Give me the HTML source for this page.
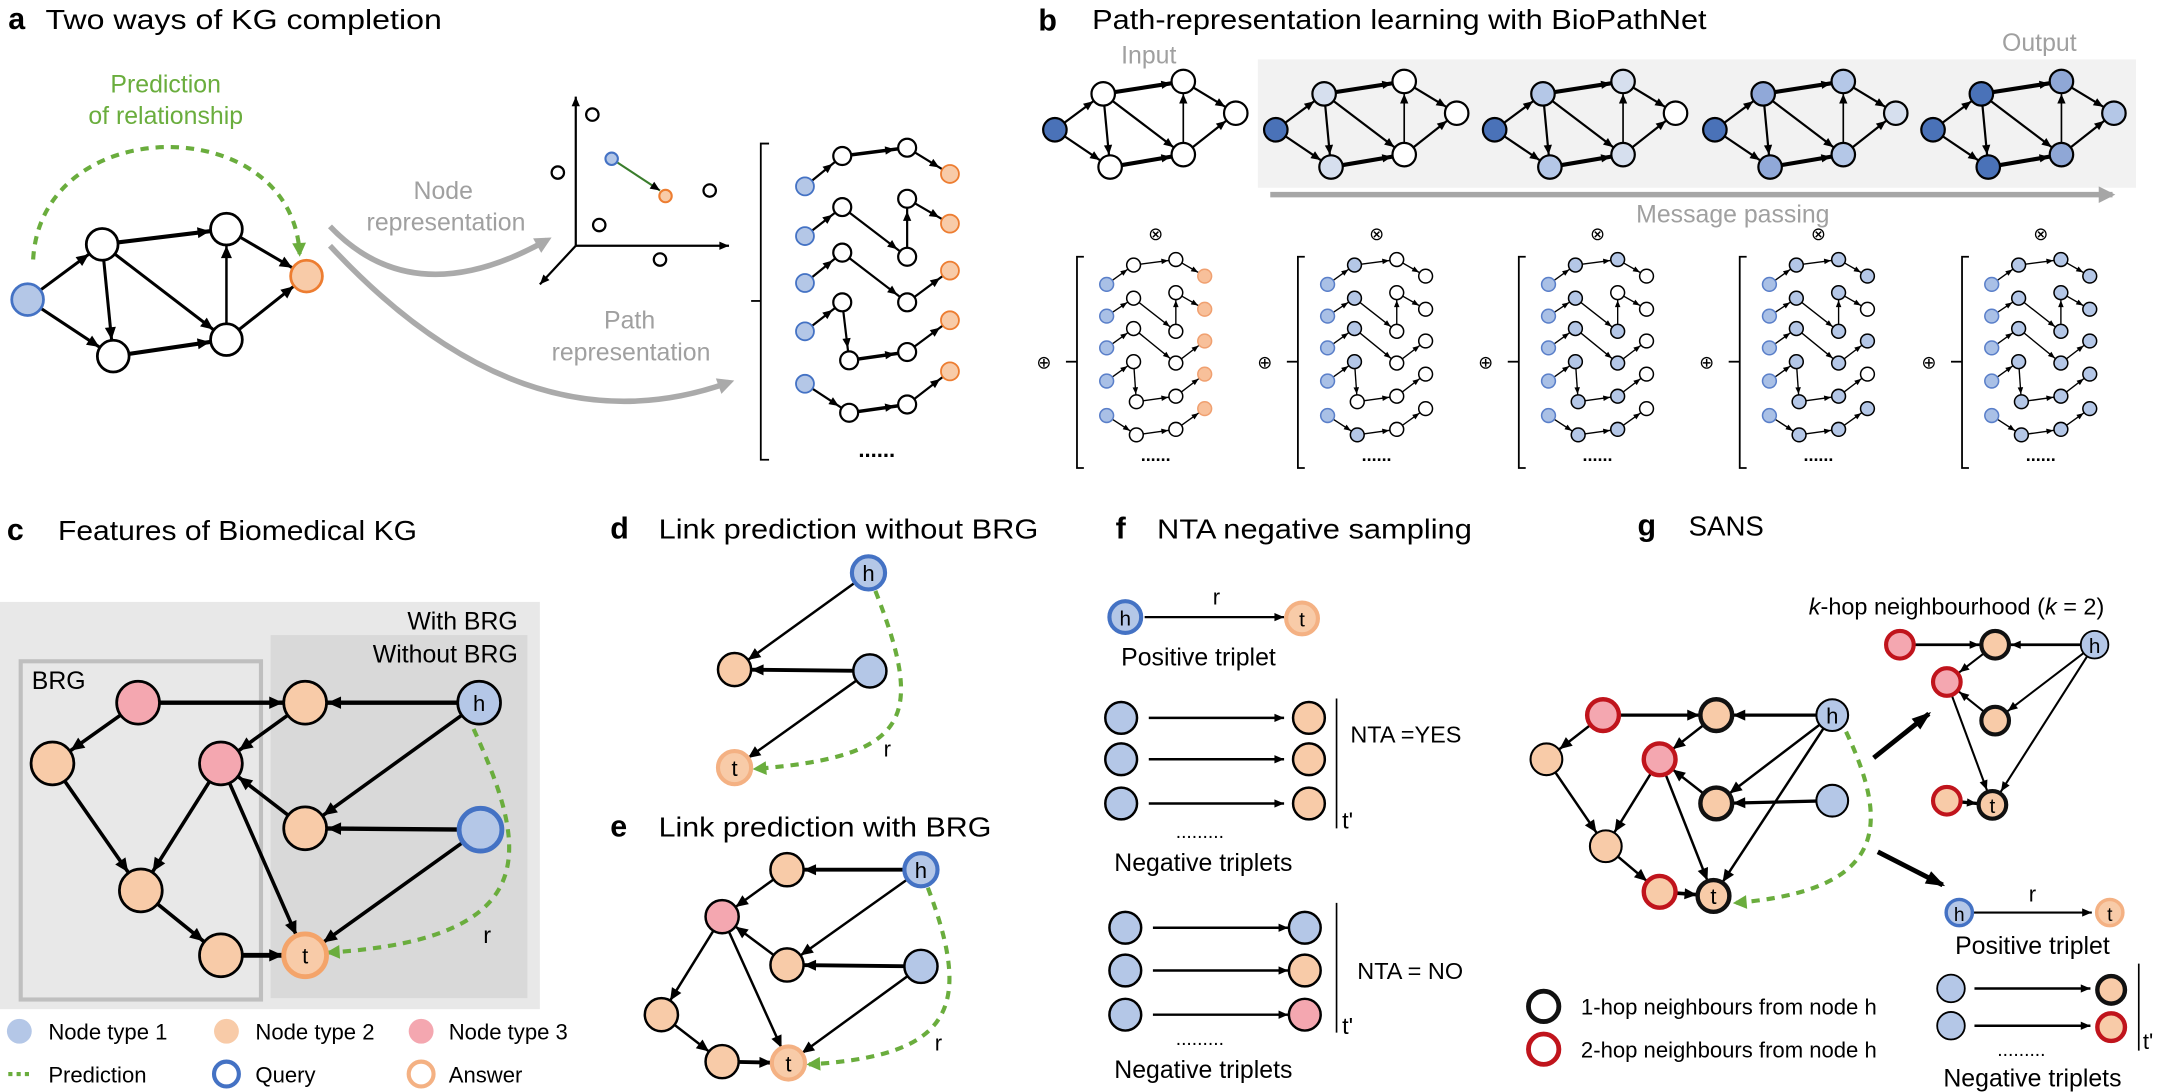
<!DOCTYPE html>
<html><head><meta charset="utf-8"><style>
html,body{margin:0;padding:0;background:#fff;}
svg{display:block;font-family:"Liberation Sans",sans-serif;}
</style></head><body>
<svg width="2165" height="1092" viewBox="0 0 1568 791" preserveAspectRatio="none" xmlns="http://www.w3.org/2000/svg">
<defs>
<marker id="m12" markerUnits="userSpaceOnUse" markerWidth="40" markerHeight="12" refX="21" refY="4" orient="auto" overflow="visible"><path d="M0,0 L9,4 L0,8 z" fill="#000"/></marker>
<marker id="m15" markerUnits="userSpaceOnUse" markerWidth="40" markerHeight="12" refX="26" refY="4.5" orient="auto" overflow="visible"><path d="M0,0 L10,4.5 L0,9 z" fill="#000"/></marker>
<marker id="m8" markerUnits="userSpaceOnUse" markerWidth="30" markerHeight="8" refX="16" refY="3" orient="auto" overflow="visible"><path d="M0,0 L7,3 L0,6 z" fill="#000"/></marker>
<marker id="m5" markerUnits="userSpaceOnUse" markerWidth="20" markerHeight="6" refX="10.5" refY="2" orient="auto" overflow="visible"><path d="M0,0 L5,2 L0,4 z" fill="#000"/></marker>
<marker id="m10" markerUnits="userSpaceOnUse" markerWidth="30" markerHeight="8" refX="18.5" refY="3" orient="auto" overflow="visible"><path d="M0,0 L7,3 L0,6 z" fill="#000"/></marker>
<marker id="mt" markerUnits="userSpaceOnUse" markerWidth="12" markerHeight="8" refX="7" refY="3" orient="auto" overflow="visible"><path d="M0,0 L7,3 L0,6 z" fill="#000"/></marker>
<marker id="mg" markerUnits="userSpaceOnUse" markerWidth="12" markerHeight="12" refX="8" refY="5" orient="auto" overflow="visible"><path d="M0,0 L10,5 L0,10 z" fill="#6aad3d"/></marker>
<marker id="mgr" markerUnits="userSpaceOnUse" markerWidth="14" markerHeight="14" refX="8" refY="6" orient="auto" overflow="visible"><path d="M0,0 L12,6 L0,12 z" fill="#aaa"/></marker>
<marker id="mbig" markerUnits="userSpaceOnUse" markerWidth="20" markerHeight="14" refX="12" refY="5" orient="auto" overflow="visible"><path d="M0,0 L14,5 L0,10 z" fill="#000"/></marker>
<marker id="mmp" markerUnits="userSpaceOnUse" markerWidth="20" markerHeight="14" refX="10" refY="6" orient="auto" overflow="visible"><path d="M0,0 L12,6 L0,12 z" fill="#a6a6a6"/></marker>

<g id="bedges" stroke="#000" stroke-width="1.6" fill="none" marker-end="url(#m8)">
<line x1="764" y1="94" x2="799" y2="68"/><line x1="764" y1="94" x2="804" y2="121"/>
<line x1="799" y1="68" x2="804" y2="121"/><line x1="799" y1="68" x2="857" y2="59" stroke-width="3"/>
<line x1="799" y1="68" x2="857" y2="112"/><line x1="804" y1="121" x2="857" y2="112" stroke-width="3"/>
<line x1="857" y1="112" x2="857" y2="59" stroke-width="1.2"/><line x1="857" y1="59" x2="895" y2="82"/>
<line x1="857" y1="112" x2="895" y2="82"/>
</g>
<g id="sedges" stroke="#000" stroke-width="1" fill="none" marker-end="url(#m5)">
<polyline points="21.5,206 41,192" /><line x1="41" y1="192" x2="71.6" y2="188"/><line x1="71.6" y1="188" x2="92.5" y2="200"/>
<line x1="21.5" y1="229" x2="41" y2="216"/><line x1="41" y1="216" x2="71.6" y2="240"/><line x1="71.6" y1="240" x2="71.6" y2="212"/><line x1="71.6" y1="212" x2="92.5" y2="224"/>
<line x1="21.5" y1="252" x2="41" y2="238"/><line x1="41" y1="238" x2="71.6" y2="263"/><line x1="71.6" y1="263" x2="92.5" y2="247"/>
<line x1="21.5" y1="276" x2="41" y2="262"/><line x1="41" y1="262" x2="43" y2="291"/><line x1="43" y1="291" x2="71.6" y2="287"/><line x1="71.6" y1="287" x2="92.5" y2="271"/>
<line x1="21.5" y1="301" x2="43" y2="315"/><line x1="43" y1="315" x2="71.6" y2="311"/><line x1="71.6" y1="311" x2="92.5" y2="296"/>
</g>
<g id="sbrk" stroke="#000" stroke-width="1.3" fill="none">
<polyline points="5,186 0,186 0,339 5,339"/><line x1="-8" y1="262" x2="0" y2="262"/>
</g>
</defs>

<!-- ===== Panel a ===== -->
<text x="6" y="21" font-size="22" font-weight="bold">a</text>
<text x="33" y="21" font-size="20" textLength="287" lengthAdjust="spacingAndGlyphs">Two ways of KG completion</text>
<text x="120" y="67" font-size="18" fill="#6aad3d" text-anchor="middle">Prediction</text>
<text x="120" y="90" font-size="18" fill="#6aad3d" text-anchor="middle">of relationship</text>
<path d="M24,188 C30,80 212,80 217,184" fill="none" stroke="#6aad3d" stroke-width="3" stroke-dasharray="6,5" marker-end="url(#mg)"/>
<g stroke="#000" stroke-width="2.2" marker-end="url(#m12)">
<line x1="20" y1="217" x2="74" y2="177"/><line x1="20" y1="217" x2="82" y2="258"/>
<line x1="74" y1="177" x2="82" y2="258"/><line x1="74" y1="177" x2="164" y2="166" stroke-width="3"/>
<line x1="74" y1="177" x2="164" y2="246"/><line x1="82" y1="258" x2="164" y2="246" stroke-width="3"/>
<line x1="164" y1="246" x2="164" y2="166" stroke-width="1.8"/><line x1="164" y1="166" x2="222" y2="200"/>
<line x1="164" y1="246" x2="222" y2="200"/>
</g>
<g stroke="#000" stroke-width="2" fill="#fff">
<circle cx="74" cy="177" r="11.5"/><circle cx="82" cy="258" r="11.5"/><circle cx="164" cy="166" r="11.5"/><circle cx="164" cy="246" r="11.5"/>
</g>
<circle cx="20" cy="217" r="11.5" fill="#b4c7e7" stroke="#4472c4" stroke-width="2"/>
<circle cx="222" cy="200" r="11.5" fill="#f8cba8" stroke="#ed7d31" stroke-width="2"/>
<path d="M239,164 Q300,228 396,174" fill="none" stroke="#aaa" stroke-width="4" marker-end="url(#mgr)"/>
<path d="M239,178 Q380,330 528,277" fill="none" stroke="#aaa" stroke-width="4" marker-end="url(#mgr)"/>
<g font-size="18" fill="#a0a0a0" text-anchor="middle">
<text x="321" y="144">Node</text><text x="323" y="167">representation</text>
<text x="456" y="238">Path</text><text x="457" y="261">representation</text>
</g>
<g stroke="#000" stroke-width="1.6" marker-end="url(#mt)">
<line x1="417" y1="178" x2="417" y2="70"/><line x1="417" y1="178" x2="528" y2="178"/><line x1="417" y1="178" x2="391" y2="206"/>
</g>
<g stroke="#000" stroke-width="1.6" fill="#fff">
<circle cx="429" cy="83" r="4.5"/><circle cx="404" cy="125" r="4.5"/><circle cx="514" cy="138" r="4.5"/><circle cx="434" cy="163" r="4.5"/><circle cx="478" cy="188" r="4.5"/>
</g>
<line x1="443" y1="115" x2="478" y2="138" stroke="#3a7d2c" stroke-width="1.5" marker-end="url(#mt)"/>
<circle cx="443" cy="115" r="4.5" fill="#b4c7e7" stroke="#4472c4" stroke-width="1.5"/>
<circle cx="482" cy="142" r="4.5" fill="#f8cba8" stroke="#ed7d31" stroke-width="1.5"/>
<!-- a path list -->
<polyline points="557,104 551,104 551,333 557,333" fill="none" stroke="#000" stroke-width="1.3"/>
<line x1="544" y1="218" x2="551" y2="218" stroke="#000" stroke-width="1.3"/>
<g stroke="#000" stroke-width="1.6" marker-end="url(#m8)" fill="none">
<line x1="583" y1="135" x2="610" y2="113"/><line x1="610" y1="113" x2="657" y2="107" stroke-width="2.5"/><line x1="657" y1="107" x2="688" y2="126"/>
<line x1="583" y1="171" x2="610" y2="150"/><line x1="610" y1="150" x2="657" y2="186"/><line x1="657" y1="186" x2="657" y2="144"/><line x1="657" y1="144" x2="688" y2="162"/>
<line x1="583" y1="205" x2="610" y2="183"/><line x1="610" y1="183" x2="657" y2="219"/><line x1="657" y1="219" x2="688" y2="196"/>
<line x1="583" y1="240" x2="610" y2="219"/><line x1="610" y1="219" x2="615" y2="261"/><line x1="615" y1="261" x2="657" y2="255" stroke-width="2.5"/><line x1="657" y1="255" x2="688" y2="232"/>
<line x1="583" y1="278" x2="615" y2="299"/><line x1="615" y1="299" x2="657" y2="293" stroke-width="2.5"/><line x1="657" y1="293" x2="688" y2="269"/>
</g>
<g stroke="#000" stroke-width="1.6" fill="#fff">
<circle cx="610" cy="113" r="6.5"/><circle cx="657" cy="107" r="6.5"/>
<circle cx="610" cy="150" r="6.5"/><circle cx="657" cy="186" r="6.5"/><circle cx="657" cy="144" r="6.5"/>
<circle cx="610" cy="183" r="6.5"/><circle cx="657" cy="219" r="6.5"/>
<circle cx="610" cy="219" r="6.5"/><circle cx="615" cy="261" r="6.5"/><circle cx="657" cy="255" r="6.5"/>
<circle cx="615" cy="299" r="6.5"/><circle cx="657" cy="293" r="6.5"/>
</g>
<g fill="#b4c7e7" stroke="#4472c4" stroke-width="1.3">
<circle cx="583" cy="135" r="6.5"/><circle cx="583" cy="171" r="6.5"/><circle cx="583" cy="205" r="6.5"/><circle cx="583" cy="240" r="6.5"/><circle cx="583" cy="278" r="6.5"/>
</g>
<g fill="#f8cba8" stroke="#ed7d31" stroke-width="1.3">
<circle cx="688" cy="126" r="6.5"/><circle cx="688" cy="162" r="6.5"/><circle cx="688" cy="196" r="6.5"/><circle cx="688" cy="232" r="6.5"/><circle cx="688" cy="269" r="6.5"/>
</g>
<text x="635" y="331" font-size="16" font-weight="bold" text-anchor="middle">......</text>

<!-- ===== Panel b ===== -->
<text x="752" y="22" font-size="22" font-weight="bold">b</text>
<text x="791" y="21" font-size="20" textLength="445" lengthAdjust="spacingAndGlyphs">Path-representation learning with BioPathNet</text>
<text x="832" y="46" font-size="18" fill="#a0a0a0" text-anchor="middle">Input</text>
<text x="1477" y="37" font-size="18" fill="#a0a0a0" text-anchor="middle">Output</text>
<rect x="911" y="43" width="636" height="93" fill="#f2f2f2"/>
<line x1="920" y1="141" x2="1530" y2="141" stroke="#a6a6a6" stroke-width="4" marker-end="url(#mmp)"/>
<text x="1255" y="161" font-size="18" fill="#a0a0a0" text-anchor="middle">Message passing</text>
<use href="#bedges"/>
<use href="#bedges" transform="translate(160,0)"/>
<use href="#bedges" transform="translate(318.5,0)"/>
<use href="#bedges" transform="translate(478,0)"/>
<use href="#bedges" transform="translate(636,0)"/>
<g stroke="#000" stroke-width="1.6">
<!-- input -->
<circle cx="764" cy="94" r="8.5" fill="#4a72b8"/><circle cx="799" cy="68" r="8.5" fill="#fff"/><circle cx="804" cy="121" r="8.5" fill="#fff"/><circle cx="857" cy="59" r="8.5" fill="#fff"/><circle cx="857" cy="112" r="8.5" fill="#fff"/><circle cx="895" cy="82" r="8.5" fill="#fff"/>
<g transform="translate(160,0)"><circle cx="764" cy="94" r="8.5" fill="#4a72b8"/><circle cx="799" cy="68" r="8.5" fill="#d6dfee"/><circle cx="804" cy="121" r="8.5" fill="#d6dfee"/><circle cx="857" cy="59" r="8.5" fill="#fff"/><circle cx="857" cy="112" r="8.5" fill="#fff"/><circle cx="895" cy="82" r="8.5" fill="#fff"/></g>
<g transform="translate(318.5,0)"><circle cx="764" cy="94" r="8.5" fill="#4a72b8"/><circle cx="799" cy="68" r="8.5" fill="#b4c7e7"/><circle cx="804" cy="121" r="8.5" fill="#b4c7e7"/><circle cx="857" cy="59" r="8.5" fill="#d6dfee"/><circle cx="857" cy="112" r="8.5" fill="#d6dfee"/><circle cx="895" cy="82" r="8.5" fill="#fff"/></g>
<g transform="translate(478,0)"><circle cx="764" cy="94" r="8.5" fill="#4a72b8"/><circle cx="799" cy="68" r="8.5" fill="#90a8d8"/><circle cx="804" cy="121" r="8.5" fill="#90a8d8"/><circle cx="857" cy="59" r="8.5" fill="#b4c7e7"/><circle cx="857" cy="112" r="8.5" fill="#b4c7e7"/><circle cx="895" cy="82" r="8.5" fill="#d6dfee"/></g>
<g transform="translate(636,0)"><circle cx="764" cy="94" r="8.5" fill="#4a72b8"/><circle cx="799" cy="68" r="8.5" fill="#4a72b8"/><circle cx="804" cy="121" r="8.5" fill="#4a72b8"/><circle cx="857" cy="59" r="8.5" fill="#8fa7d6"/><circle cx="857" cy="112" r="8.5" fill="#8fa7d6"/><circle cx="895" cy="82" r="8.5" fill="#b4c7e7"/></g>
</g>
<!-- stacks -->
<g font-size="13" text-anchor="middle">
<g transform="translate(780,0)"><use href="#sbrk"/><use href="#sedges"/><text x="57" y="174">⊗</text><text x="-24" y="267">⊕</text><text x="57" y="334" font-weight="bold">......</text></g>
<g transform="translate(940,0)"><use href="#sbrk"/><use href="#sedges"/><text x="57" y="174">⊗</text><text x="-24" y="267">⊕</text><text x="57" y="334" font-weight="bold">......</text></g>
<g transform="translate(1100,0)"><use href="#sbrk"/><use href="#sedges"/><text x="57" y="174">⊗</text><text x="-24" y="267">⊕</text><text x="57" y="334" font-weight="bold">......</text></g>
<g transform="translate(1260,0)"><use href="#sbrk"/><use href="#sedges"/><text x="57" y="174">⊗</text><text x="-24" y="267">⊕</text><text x="57" y="334" font-weight="bold">......</text></g>
<g transform="translate(1421,0)"><use href="#sbrk"/><use href="#sedges"/><text x="57" y="174">⊗</text><text x="-24" y="267">⊕</text><text x="57" y="334" font-weight="bold">......</text></g>
</g>
<g stroke-width="1.1">
<!-- stack1 -->
<g transform="translate(780,0)" stroke="#000">
<g fill="#fff"><circle cx="41" cy="192" r="5"/><circle cx="71.6" cy="188" r="5"/><circle cx="41" cy="216" r="5"/><circle cx="71.6" cy="240" r="5"/><circle cx="71.6" cy="212" r="5"/><circle cx="41" cy="238" r="5"/><circle cx="71.6" cy="263" r="5"/><circle cx="41" cy="262" r="5"/><circle cx="43" cy="291" r="5"/><circle cx="71.6" cy="287" r="5"/><circle cx="43" cy="315" r="5"/><circle cx="71.6" cy="311" r="5"/></g>
<g fill="#f8c09a" stroke="#f0a070"><circle cx="92.5" cy="200" r="5"/><circle cx="92.5" cy="224" r="5"/><circle cx="92.5" cy="247" r="5"/><circle cx="92.5" cy="271" r="5"/><circle cx="92.5" cy="296" r="5"/></g>
</g>
<!-- stack2 -->
<g transform="translate(940,0)" stroke="#000">
<g fill="#fff"><circle cx="71.6" cy="188" r="5"/><circle cx="71.6" cy="240" r="5"/><circle cx="71.6" cy="212" r="5"/><circle cx="71.6" cy="263" r="5"/><circle cx="43" cy="291" r="5"/><circle cx="71.6" cy="287" r="5"/><circle cx="71.6" cy="311" r="5"/><circle cx="92.5" cy="200" r="5"/><circle cx="92.5" cy="224" r="5"/><circle cx="92.5" cy="247" r="5"/><circle cx="92.5" cy="271" r="5"/><circle cx="92.5" cy="296" r="5"/></g>
<g fill="#b4c7e7"><circle cx="41" cy="192" r="5"/><circle cx="41" cy="216" r="5"/><circle cx="41" cy="238" r="5"/><circle cx="41" cy="262" r="5"/><circle cx="43" cy="315" r="5"/></g>
</g>
<!-- stack3 -->
<g transform="translate(1100,0)" stroke="#000">
<g fill="#fff"><circle cx="71.6" cy="212" r="5"/><circle cx="92.5" cy="200" r="5"/><circle cx="92.5" cy="224" r="5"/><circle cx="92.5" cy="247" r="5"/><circle cx="92.5" cy="271" r="5"/><circle cx="92.5" cy="296" r="5"/></g>
<g fill="#b4c7e7"><circle cx="41" cy="192" r="5"/><circle cx="41" cy="216" r="5"/><circle cx="41" cy="238" r="5"/><circle cx="41" cy="262" r="5"/><circle cx="43" cy="315" r="5"/><circle cx="71.6" cy="188" r="5"/><circle cx="71.6" cy="240" r="5"/><circle cx="71.6" cy="263" r="5"/><circle cx="43" cy="291" r="5"/><circle cx="71.6" cy="287" r="5"/><circle cx="71.6" cy="311" r="5"/></g>
</g>
<!-- stack4 -->
<g transform="translate(1260,0)" stroke="#000">
<g fill="#fff"><circle cx="92.5" cy="224" r="5"/><circle cx="92.5" cy="271" r="5"/></g>
<g fill="#b4c7e7"><circle cx="41" cy="192" r="5"/><circle cx="41" cy="216" r="5"/><circle cx="41" cy="238" r="5"/><circle cx="41" cy="262" r="5"/><circle cx="43" cy="315" r="5"/><circle cx="71.6" cy="188" r="5"/><circle cx="71.6" cy="240" r="5"/><circle cx="71.6" cy="212" r="5"/><circle cx="71.6" cy="263" r="5"/><circle cx="43" cy="291" r="5"/><circle cx="71.6" cy="287" r="5"/><circle cx="71.6" cy="311" r="5"/><circle cx="92.5" cy="200" r="5"/><circle cx="92.5" cy="247" r="5"/><circle cx="92.5" cy="296" r="5"/></g>
</g>
<!-- stack5 -->
<g transform="translate(1421,0)" stroke="#000" fill="#b4c7e7">
<circle cx="41" cy="192" r="5"/><circle cx="41" cy="216" r="5"/><circle cx="41" cy="238" r="5"/><circle cx="41" cy="262" r="5"/><circle cx="43" cy="315" r="5"/><circle cx="71.6" cy="188" r="5"/><circle cx="71.6" cy="240" r="5"/><circle cx="71.6" cy="212" r="5"/><circle cx="71.6" cy="263" r="5"/><circle cx="43" cy="291" r="5"/><circle cx="71.6" cy="287" r="5"/><circle cx="71.6" cy="311" r="5"/><circle cx="92.5" cy="200" r="5"/><circle cx="92.5" cy="224" r="5"/><circle cx="92.5" cy="247" r="5"/><circle cx="92.5" cy="271" r="5"/><circle cx="92.5" cy="296" r="5"/>
</g>
<!-- start nodes all stacks -->
<g fill="#a9c0e6" stroke="#5a7fc9">
<g transform="translate(780,0)"><circle cx="21.5" cy="206" r="5"/><circle cx="21.5" cy="229" r="5"/><circle cx="21.5" cy="252" r="5"/><circle cx="21.5" cy="276" r="5"/><circle cx="21.5" cy="301" r="5"/></g>
<g transform="translate(940,0)"><circle cx="21.5" cy="206" r="5"/><circle cx="21.5" cy="229" r="5"/><circle cx="21.5" cy="252" r="5"/><circle cx="21.5" cy="276" r="5"/><circle cx="21.5" cy="301" r="5"/></g>
<g transform="translate(1100,0)"><circle cx="21.5" cy="206" r="5"/><circle cx="21.5" cy="229" r="5"/><circle cx="21.5" cy="252" r="5"/><circle cx="21.5" cy="276" r="5"/><circle cx="21.5" cy="301" r="5"/></g>
<g transform="translate(1260,0)"><circle cx="21.5" cy="206" r="5"/><circle cx="21.5" cy="229" r="5"/><circle cx="21.5" cy="252" r="5"/><circle cx="21.5" cy="276" r="5"/><circle cx="21.5" cy="301" r="5"/></g>
<g transform="translate(1421,0)"><circle cx="21.5" cy="206" r="5"/><circle cx="21.5" cy="229" r="5"/><circle cx="21.5" cy="252" r="5"/><circle cx="21.5" cy="276" r="5"/><circle cx="21.5" cy="301" r="5"/></g>
</g>
</g>

<!-- ===== Panel c ===== -->
<text x="5" y="391" font-size="22" font-weight="bold">c</text>
<text x="42" y="391" font-size="20" textLength="260" lengthAdjust="spacingAndGlyphs">Features of Biomedical KG</text>
<rect x="0" y="436" width="391" height="295" fill="#e8e8e8"/>
<rect x="196" y="460" width="186" height="263" fill="#d9d9d9"/>
<rect x="15" y="479" width="174" height="245" fill="none" stroke="#bfbfbf" stroke-width="3"/>
<text x="375" y="456" font-size="18" text-anchor="end">With BRG</text>
<text x="375" y="480" font-size="18" text-anchor="end">Without BRG</text>
<text x="23" y="499" font-size="18">BRG</text>
<g stroke="#000" stroke-width="2.6" marker-end="url(#m15)">
<line x1="100" y1="509" x2="221" y2="509" stroke-width="3.2"/><line x1="347" y1="509" x2="221" y2="509" stroke-width="3.2"/>
<line x1="100" y1="509" x2="38" y2="553"/><line x1="221" y1="509" x2="160" y2="553"/>
<line x1="347" y1="509" x2="221" y2="600"/><line x1="221" y1="600" x2="160" y2="553"/>
<line x1="348" y1="601" x2="221" y2="600" stroke-width="3.2"/><line x1="38" y1="553" x2="102" y2="645"/>
<line x1="160" y1="553" x2="102" y2="645"/><line x1="160" y1="553" x2="221" y2="692"/>
<line x1="102" y1="645" x2="160" y2="692"/><line x1="160" y1="692" x2="221" y2="692" stroke-width="3.5"/>
<line x1="348" y1="601" x2="221" y2="692"/>
</g>
<path d="M343,528 C380,610 400,680 238,690" fill="none" stroke="#6aad3d" stroke-width="3" stroke-dasharray="6,5" marker-end="url(#mg)"/>
<text x="350" y="683" font-size="17">r</text>
<g stroke="#000" stroke-width="2">
<circle cx="100" cy="509" r="15.5" fill="#f4a7b0"/><circle cx="160" cy="553" r="15.5" fill="#f4a7b0"/>
<circle cx="221" cy="509" r="15.5" fill="#f8cba8"/><circle cx="38" cy="553" r="15.5" fill="#f8cba8"/><circle cx="221" cy="600" r="15.5" fill="#f8cba8"/><circle cx="102" cy="645" r="15.5" fill="#f8cba8"/><circle cx="160" cy="692" r="15.5" fill="#f8cba8"/>
<circle cx="347" cy="509" r="15.5" fill="#b4c7e7"/>
</g>
<circle cx="348" cy="601" r="15.5" fill="#b4c7e7" stroke="#4472c4" stroke-width="3.5"/>
<circle cx="221" cy="692" r="15.5" fill="#f8cba8" stroke="#f4a46a" stroke-width="3.5"/>
<text x="347" y="515" font-size="16" text-anchor="middle">h</text>
<text x="221" y="698" font-size="16" text-anchor="middle">t</text>
<!-- legend c -->
<g font-size="16">
<circle cx="14" cy="747" r="9" fill="#b4c7e7"/><text x="35" y="753">Node type 1</text>
<circle cx="164" cy="747" r="9" fill="#f8cba8"/><text x="185" y="753">Node type 2</text>
<circle cx="305" cy="747" r="9" fill="#f4a7b0"/><text x="325" y="753">Node type 3</text>
<line x1="6" y1="778" x2="22" y2="778" stroke="#6aad3d" stroke-width="3" stroke-dasharray="3,3"/><text x="35" y="784">Prediction</text>
<circle cx="164" cy="778" r="9" fill="none" stroke="#4472c4" stroke-width="3"/><text x="185" y="784">Query</text>
<circle cx="305" cy="778" r="9" fill="none" stroke="#f4b183" stroke-width="3"/><text x="325" y="784">Answer</text>
</g>

<!-- ===== Panel d ===== -->
<text x="442" y="390" font-size="22" font-weight="bold">d</text>
<text x="477" y="390" font-size="20" textLength="275" lengthAdjust="spacingAndGlyphs">Link prediction without BRG</text>
<g stroke="#000" stroke-width="1.8" marker-end="url(#m12)">
<line x1="629" y1="415" x2="532" y2="485"/><line x1="630" y1="486" x2="532" y2="485" stroke-width="2.8"/><line x1="630" y1="486" x2="532" y2="556"/>
</g>
<path d="M634,428 C670,520 660,548 547,557" fill="none" stroke="#6aad3d" stroke-width="3" stroke-dasharray="6,5" marker-end="url(#mg)"/>
<text x="640" y="548" font-size="16">r</text>
<circle cx="629" cy="415" r="12" fill="#b4c7e7" stroke="#4472c4" stroke-width="3"/><text x="629" y="421" font-size="16" text-anchor="middle">h</text>
<circle cx="532" cy="485" r="12" fill="#f8cba8" stroke="#000" stroke-width="1.8"/>
<circle cx="630" cy="486" r="12" fill="#b4c7e7" stroke="#000" stroke-width="1.8"/>
<circle cx="532" cy="556" r="12" fill="#f8cba8" stroke="#f4b183" stroke-width="3"/><text x="532" y="562" font-size="16" text-anchor="middle">t</text>

<!-- ===== Panel e ===== -->
<text x="442" y="606" font-size="22" font-weight="bold">e</text>
<text x="477" y="606" font-size="20" textLength="241" lengthAdjust="spacingAndGlyphs">Link prediction with BRG</text>
<g stroke="#000" stroke-width="1.8" marker-end="url(#m12)">
<line x1="667" y1="630" x2="570" y2="630" stroke-width="2.8"/><line x1="570" y1="630" x2="523" y2="664"/>
<line x1="667" y1="630" x2="570" y2="699"/><line x1="570" y1="699" x2="523" y2="664"/>
<line x1="667" y1="700" x2="570" y2="699" stroke-width="2.8"/><line x1="523" y1="664" x2="479" y2="735"/>
<line x1="523" y1="664" x2="571" y2="770"/><line x1="479" y1="735" x2="523" y2="769"/>
<line x1="523" y1="769" x2="571" y2="770" stroke-width="2.8"/><line x1="667" y1="700" x2="571" y2="770"/>
</g>
<path d="M672,643 C705,730 690,765 586,771" fill="none" stroke="#6aad3d" stroke-width="3" stroke-dasharray="6,5" marker-end="url(#mg)"/>
<text x="677" y="761" font-size="16">r</text>
<g stroke="#000" stroke-width="1.8">
<circle cx="570" cy="630" r="12" fill="#f8cba8"/><circle cx="523" cy="664" r="12" fill="#f4a7b0"/><circle cx="570" cy="699" r="12" fill="#f8cba8"/><circle cx="667" cy="700" r="12" fill="#b4c7e7"/><circle cx="479" cy="735" r="12" fill="#f8cba8"/><circle cx="523" cy="769" r="12" fill="#f8cba8"/>
</g>
<circle cx="667" cy="630" r="12" fill="#b4c7e7" stroke="#4472c4" stroke-width="3"/><text x="667" y="636" font-size="16" text-anchor="middle">h</text>
<circle cx="571" cy="770" r="12" fill="#f8cba8" stroke="#f4b183" stroke-width="3"/><text x="571" y="776" font-size="16" text-anchor="middle">t</text>

<!-- ===== Panel f ===== -->
<text x="808" y="390" font-size="22" font-weight="bold">f</text>
<text x="838" y="390" font-size="20" textLength="228" lengthAdjust="spacingAndGlyphs">NTA negative sampling</text>
<line x1="829" y1="447" x2="930" y2="447" stroke="#000" stroke-width="1.6" marker-end="url(#mt)"/>
<text x="881" y="438" font-size="16" text-anchor="middle">r</text>
<circle cx="815" cy="447" r="11.5" fill="#b4c7e7" stroke="#4472c4" stroke-width="3"/><text x="815" y="453" font-size="15" text-anchor="middle">h</text>
<circle cx="943" cy="448" r="11.5" fill="#f8cba8" stroke="#f4b183" stroke-width="3"/><text x="943" y="454" font-size="15" text-anchor="middle">t</text>
<text x="812" y="482" font-size="18">Positive triplet</text>
<g stroke="#000" stroke-width="1.8">
<line x1="832" y1="520" x2="930" y2="520" marker-end="url(#mt)"/><line x1="832" y1="550" x2="930" y2="550" marker-end="url(#mt)"/><line x1="832" y1="582" x2="930" y2="582" marker-end="url(#mt)"/>
<line x1="835" y1="672" x2="933" y2="672" marker-end="url(#mt)"/><line x1="835" y1="703" x2="933" y2="703" marker-end="url(#mt)"/><line x1="835" y1="735" x2="933" y2="735" marker-end="url(#mt)"/>
<line x1="968" y1="506" x2="968" y2="600" stroke-width="1.2"/><line x1="968" y1="654" x2="968" y2="748" stroke-width="1.2"/>
<circle cx="812" cy="520" r="11.5" fill="#b4c7e7"/><circle cx="812" cy="550" r="11.5" fill="#b4c7e7"/><circle cx="812" cy="582" r="11.5" fill="#b4c7e7"/>
<circle cx="948" cy="520" r="11.5" fill="#f8cba8"/><circle cx="948" cy="550" r="11.5" fill="#f8cba8"/><circle cx="948" cy="582" r="11.5" fill="#f8cba8"/>
<circle cx="815" cy="672" r="11.5" fill="#b4c7e7"/><circle cx="815" cy="703" r="11.5" fill="#b4c7e7"/><circle cx="815" cy="735" r="11.5" fill="#b4c7e7"/>
<circle cx="945" cy="672" r="11.5" fill="#b4c7e7"/><circle cx="945" cy="703" r="11.5" fill="#f8cba8"/><circle cx="945" cy="735" r="11.5" fill="#f4a7b0"/>
</g>
<g font-size="17">
<text x="978" y="538">NTA =YES</text><text x="972" y="600">t'</text>
<text x="983" y="709">NTA = NO</text><text x="972" y="749">t'</text>
</g>
<text x="869" y="607" font-size="14" text-anchor="middle">.........</text>
<text x="869" y="757" font-size="14" text-anchor="middle">.........</text>
<text x="807" y="631" font-size="18">Negative triplets</text>
<text x="807" y="781" font-size="18">Negative triplets</text>

<!-- ===== Panel g ===== -->
<text x="1186" y="388" font-size="22" font-weight="bold">g</text>
<text x="1223" y="388" font-size="20">SANS</text>
<text x="1310" y="445" font-size="17"><tspan font-style="italic">k</tspan>-hop neighbourhood (<tspan font-style="italic">k</tspan> = 2)</text>
<g stroke="#000" stroke-width="1.8" marker-end="url(#m12)">
<line x1="1161" y1="518" x2="1243" y2="518" stroke-width="2.4"/><line x1="1327" y1="518" x2="1243" y2="518" stroke-width="2.4"/>
<line x1="1161" y1="518" x2="1120" y2="550"/><line x1="1243" y1="518" x2="1202" y2="550"/>
<line x1="1327" y1="518" x2="1243" y2="582"/><line x1="1243" y1="582" x2="1202" y2="550"/>
<line x1="1327" y1="580" x2="1243" y2="582" stroke-width="2.4"/><line x1="1120" y1="550" x2="1163" y2="613"/>
<line x1="1202" y1="550" x2="1163" y2="613"/><line x1="1202" y1="550" x2="1241" y2="649"/>
<line x1="1163" y1="613" x2="1202" y2="646"/><line x1="1202" y1="646" x2="1241" y2="649" stroke-width="2.6"/>
<line x1="1327" y1="518" x2="1241" y2="649"/>
</g>
<path d="M1337,530 C1370,600 1365,645 1257,654" fill="none" stroke="#6aad3d" stroke-width="3" stroke-dasharray="6,5" marker-end="url(#mg)"/>
<line x1="1357" y1="549" x2="1397" y2="517" stroke="#000" stroke-width="3.5" marker-end="url(#mbig)"/>
<line x1="1360" y1="617" x2="1407" y2="641" stroke="#000" stroke-width="3.5" marker-end="url(#mbig)"/>
<g stroke-width="3.2">
<circle cx="1161" cy="518" r="11.5" fill="#f4a7b0" stroke="#c0141c"/><circle cx="1202" cy="550" r="11.5" fill="#f4a7b0" stroke="#c0141c"/><circle cx="1202" cy="646" r="11.5" fill="#f8cba8" stroke="#c0141c"/>
<circle cx="1243" cy="518" r="11.5" fill="#f8cba8" stroke="#111"/><circle cx="1243" cy="582" r="11.5" fill="#f8cba8" stroke="#111"/><circle cx="1241" cy="649" r="11.5" fill="#f8cba8" stroke="#111"/>
</g>
<g stroke="#000" stroke-width="1.5">
<circle cx="1120" cy="550" r="11.5" fill="#f8cba8"/><circle cx="1163" cy="613" r="11.5" fill="#f8cba8"/><circle cx="1327" cy="518" r="11.5" fill="#b4c7e7"/><circle cx="1327" cy="580" r="11.5" fill="#b4c7e7"/>
</g>
<text x="1327" y="524" font-size="16" text-anchor="middle">h</text>
<text x="1241" y="655" font-size="16" text-anchor="middle">t</text>
<!-- k-hop -->
<g stroke="#000" stroke-width="1.5" marker-end="url(#m10)">
<line x1="1376" y1="467" x2="1445" y2="467" stroke-width="2"/><line x1="1517" y1="467" x2="1445" y2="467" stroke-width="2"/>
<line x1="1445" y1="467" x2="1410" y2="494"/><line x1="1517" y1="467" x2="1445" y2="522"/>
<line x1="1445" y1="522" x2="1410" y2="494"/><line x1="1410" y1="494" x2="1443" y2="583"/>
<line x1="1517" y1="467" x2="1443" y2="583"/><line x1="1410" y1="580" x2="1443" y2="583" stroke-width="2.4"/>
</g>
<g stroke-width="3">
<circle cx="1376" cy="467" r="10" fill="#f4a7b0" stroke="#c0141c"/><circle cx="1410" cy="494" r="10" fill="#f4a7b0" stroke="#c0141c"/><circle cx="1410" cy="580" r="10" fill="#f8cba8" stroke="#c0141c"/>
<circle cx="1445" cy="467" r="10" fill="#f8cba8" stroke="#111"/><circle cx="1445" cy="522" r="10" fill="#f8cba8" stroke="#111"/><circle cx="1443" cy="583" r="10" fill="#f8cba8" stroke="#111"/>
</g>
<circle cx="1517" cy="467" r="10" fill="#b4c7e7" stroke="#000" stroke-width="1.3"/>
<text x="1517" y="473" font-size="15" text-anchor="middle">h</text>
<text x="1443" y="589" font-size="15" text-anchor="middle">t</text>
<!-- g positive/negative -->
<line x1="1429" y1="661" x2="1515" y2="661" stroke="#000" stroke-width="1.5" marker-end="url(#mt)"/>
<text x="1472" y="653" font-size="16" text-anchor="middle">r</text>
<circle cx="1419" cy="661" r="9.5" fill="#b4c7e7" stroke="#4472c4" stroke-width="2.5"/><text x="1419" y="667" font-size="14" text-anchor="middle">h</text>
<circle cx="1528" cy="661" r="9.5" fill="#f8cba8" stroke="#f4b183" stroke-width="2.5"/><text x="1528" y="667" font-size="14" text-anchor="middle">t</text>
<text x="1472" y="691" font-size="18" text-anchor="middle">Positive triplet</text>
<g stroke="#000" stroke-width="1.8">
<line x1="1430" y1="716" x2="1514" y2="716" marker-end="url(#mt)"/><line x1="1430" y1="743" x2="1514" y2="743" marker-end="url(#mt)"/>
<line x1="1549" y1="698" x2="1549" y2="761" stroke-width="1.2"/>
<circle cx="1413" cy="716" r="10" fill="#b4c7e7" stroke-width="1.3"/><circle cx="1413" cy="743" r="10" fill="#b4c7e7" stroke-width="1.3"/>
</g>
<circle cx="1529" cy="717" r="10" fill="#f8cba8" stroke="#111" stroke-width="3.2"/>
<circle cx="1529" cy="744" r="10" fill="#f8cba8" stroke="#c0141c" stroke-width="3.2"/>
<text x="1552" y="760" font-size="16">t'</text>
<text x="1464" y="765" font-size="14" text-anchor="middle">.........</text>
<text x="1472" y="787" font-size="18" text-anchor="middle">Negative triplets</text>
<!-- legend g -->
<circle cx="1118" cy="729" r="11" fill="none" stroke="#111" stroke-width="3.5"/>
<circle cx="1118" cy="760" r="11" fill="none" stroke="#c0141c" stroke-width="3.5"/>
<text x="1145" y="735" font-size="16">1-hop neighbours from node h</text>
<text x="1145" y="766" font-size="16">2-hop neighbours from node h</text>
</svg>
</body></html>
